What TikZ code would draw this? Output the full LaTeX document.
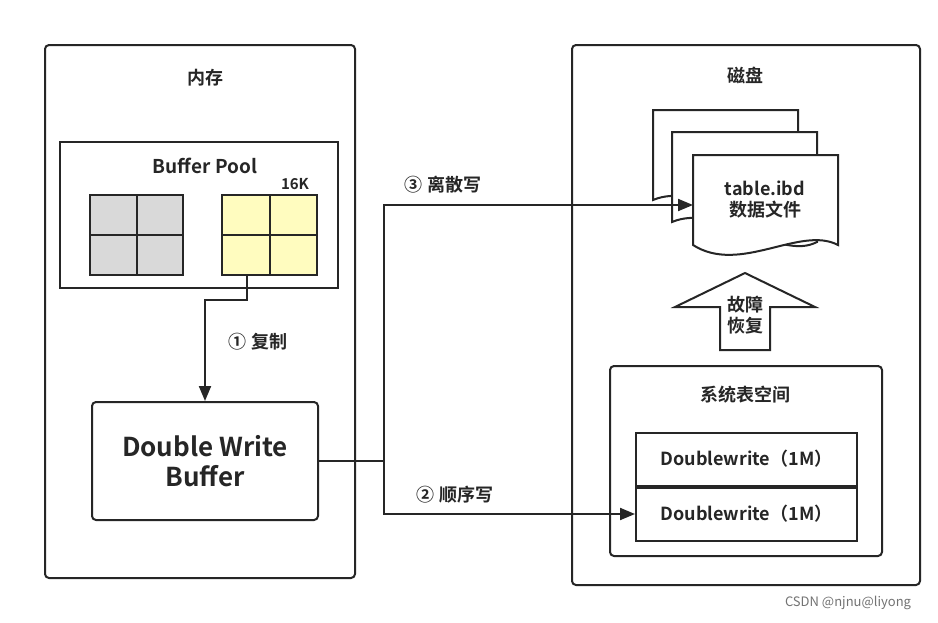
\documentclass[tikz,border=0pt]{standalone}
\usepackage{fontspec}
\setmainfont{Noto Sans CJK SC}[BoldFont={Noto Sans CJK SC Bold}]
\usetikzlibrary{arrows.meta, positioning}

\tikzset{
  box/.style={draw=black!85, line width=2pt, rounded corners=4pt},
  plain/.style={draw=black!85, line width=2pt},
  lbl/.style={font=\bfseries\fontsize{18}{21}\selectfont, text=black!85},
  line/.style={draw=black!85, line width=2pt},
  arr/.style={line, -{Triangle[length=15pt, width=12pt]}}
}

\begin{document}
\begin{tikzpicture}[x=1pt, y=-1pt]
        \useasboundingbox[fill=white] (0,0) rectangle (938,622);

        % left: memory
        \draw[box] (45,45) rectangle (355,578);
        \node[lbl] (mem) at (205,78) {内存};
        \draw[plain] (60,142) rectangle (338,288);
        \node[lbl, font=\bfseries\fontsize{19}{21}\selectfont] (pool) at (205,166) {Buffer Pool};
        \node[lbl, font=\bfseries\fontsize{15}{17}\selectfont] (size) at (295,184) {16K};
        \draw[plain, fill=black!15] (90,195) rectangle (183,275);
        \draw[plain] (136.5,195) -- (136.5,275) (90,235) -- (183,235);
        \draw[plain, fill=yellow!25] (222,195) rectangle (317,275);
        \draw[plain] (269.5,195) -- (269.5,275) (222,235) -- (317,235);
        \coordinate (page) at (247,275);

        \node[box, minimum width=226pt, minimum height=118pt, align=center,
              font=\bfseries\fontsize{26}{30}\selectfont, text=black!85] (dwb) at (205,461)
              {Double Write\\Buffer};
        \node[lbl] (copy) at (258,342) {① 复制};

        % right: disk
        \draw[box] (572,45) rectangle (920,585);
        \node[lbl] (disk) at (745,75) {磁盘};
        \foreach \dx/\dy in {0/0, 19/22} {
          \draw[plain, fill=white] (653+\dx,110+\dy) -- (798+\dx,110+\dy) -- (798+\dx,220+\dy)
            .. controls (760+\dx,240+\dy) and (700+\dx,180+\dy) .. (653+\dx,200+\dy) -- cycle;
        }
        \draw[plain, fill=white] (693,155) -- (838,155) -- (838,245)
            .. controls (800,225) and (740,275) .. (693,245) -- cycle;
        \node[lbl, align=center] (ibd) at (765,200) {table.ibd\\数据文件};
        \coordinate (ibdin) at (693,205);

        \draw[plain, fill=white] (745,273) -- (815,307) -- (770,307) -- (770,350)
            -- (720,350) -- (720,307) -- (675,307) -- cycle;
        \node[lbl, align=center] (recover) at (745,315) {故障\\恢复};

        \draw[box] (610,366) rectangle (882,556);
        \node[lbl] (sys) at (745,395) {系统表空间};
        \node[plain, minimum width=221pt, minimum height=53pt, lbl] (dw1) at (746.5,459) {Doublewrite（1M）};
        \node[plain, minimum width=221pt, minimum height=53pt, lbl, anchor=north] (dw2) at (dw1.south) {Doublewrite（1M）};

        % connectors
        \coordinate (bend) at (384,461);
        \draw[arr] (page) -- (247,300) -- (205,300) -- (dwb.north);
        \draw[arr] (dwb.east) -- (bend) |- (ibdin);
        \draw[arr] (bend) |- (dw2.west);
        \node[lbl] (rand) at (443,185) {③ 离散写};
        \node[lbl] (seq) at (455,495) {② 顺序写};

        \node[text=black!55, font=\fontsize{13}{15}\selectfont] (mark) at (848,603) {CSDN @njnu@liyong};
\end{tikzpicture}
\end{document}
